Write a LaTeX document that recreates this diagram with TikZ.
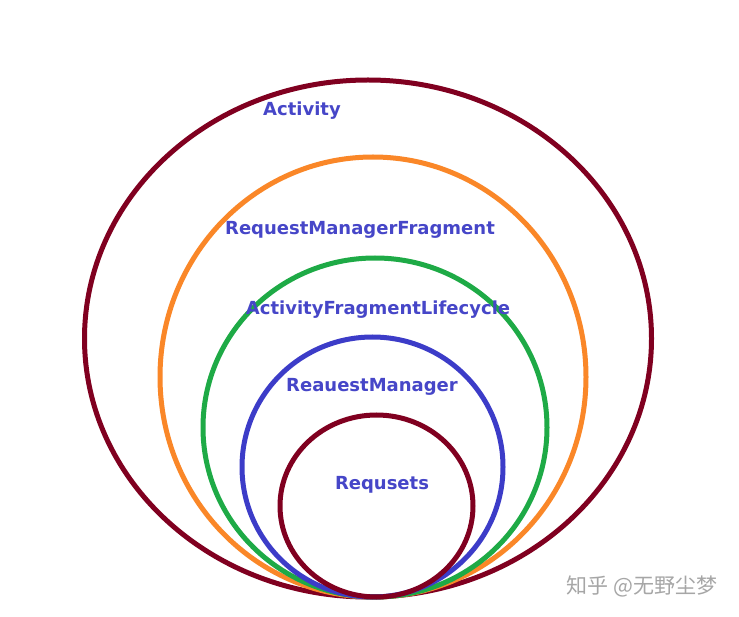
\documentclass[tikz,border=0pt]{standalone}
\usepackage{fontspec}
\setmainfont{DejaVu Sans}
\newfontfamily\cjk{Noto Sans CJK SC}
\definecolor{dred}{RGB}{128,0,32}
\definecolor{org}{RGB}{250,135,40}
\definecolor{grn}{RGB}{30,170,70}
\definecolor{blu}{RGB}{60,60,200}
\definecolor{lbl}{RGB}{70,70,200}
\begin{document}
\begin{tikzpicture}[x=1pt,y=-1pt,
  ring/.style={line width=5pt},
  lab/.style={text=lbl,font=\bfseries\fontsize{18}{20}\selectfont,inner sep=0pt}]
\useasboundingbox[fill=white] (0,0) rectangle (739,617);
\draw[ring,dred] (368,338.5) ellipse [x radius=283.5, y radius=258.5];
\draw[ring,org] (373,377) ellipse [x radius=213, y radius=220];
\draw[ring,grn] (375,427.5) ellipse [x radius=172, y radius=169.5];
\draw[ring,blu] (372.5,467) ellipse [x radius=130.5, y radius=130];
\draw[ring,dred] (376.5,506) ellipse [x radius=96.5, y radius=91];
\node[lab] (a) at (302,111) {Activity};
\node[lab] (b) at (360,230) {RequestManagerFragment};
\node[lab] (c) at (378,310) {ActivityFragmentLifecycle};
\node[lab] (d) at (372,387) {ReauestManager};
\node[lab] (e) at (382,485) {Requsets};
\node[text=gray!70,font=\cjk\fontsize{21}{23}\selectfont,inner sep=0pt] (w) at (642,586) {知乎 @无野尘梦};
\end{tikzpicture}
\end{document}
